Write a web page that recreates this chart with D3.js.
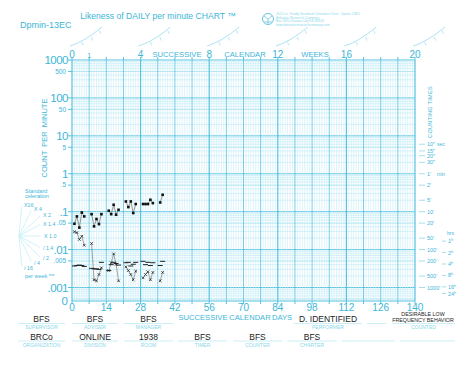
<!DOCTYPE html>
<meta charset="utf-8">
<script src="https://d3js.org/d3.v7.min.js"></script>
<style>
  body { margin: 0; background: #fff; }
</style>
<div id="chart"></div>
<script>
// values (count per minute)
var days    = [1,2,3,4,5, 8,9,10,11,12, 15,16,17,18,19, 22,23,24,25,26, 29,30,31,32,33, 36,37];
var correct = [0.048,0.075,0.038,0.095,0.075, 0.086,0.041,0.064,0.047,0.086,
               0.106,0.086,0.152,0.083,0.112, 0.186,0.132,0.186,0.092,0.159,
               0.159,0.159,0.159,0.206,0.168, 0.175,0.279];
var errors  = [0.0295,0.028,0.0185,0.0225,0.013, 0.0145,0.0016,0.0015,0.0022,0.0033,
               0.0028,0.0045,0.0077,0.0041,0.0015, 0.0035,0.0028,0.0022,0.0016,0.0027,
               0.0018,0.0022,0.0026,0.0016,0.0025, 0.0015,0.0025];
var floors  = [0.0037,0.0038,0.0039,0.0038,0.0036, 0.0032,0.0031,0.0031,0.0030,0.0046,
               0.0028,0.0040,0.0046,0.0043,0.0039, 0.0045,0.0046,0.0037,0.0041,0.0046,
               0.0049,0.0040,0.0046,0.0038,0.0045, 0.0038,0.0049];

// tick labels
var decadeVals = [1000,100,10,1,0.1,0.01,0.001];
var decadeLabels = ["1000","100","10","1",".1",".01",".001"];
var halfVals = [500,50,5,0.5,0.05,0.005];
var halfLabels = ["500","50","5",".5",".05",".005"];
var dayTicks = [0,14,28,42,56,70,84,98,112,126,140];
var weekTicks = [0,1,4,8,12,16,20];
var ctVals = [6,4,3,2,1,0.5,0.2,0.1,0.05,0.02,0.01,0.005,0.002,0.001];
var ctLabels = ["10\u2033","15\u2033","20\u2033","30\u2033","1\u2032","2\u2032","5\u2032","10\u2032","20\u2032","50\u2032","100\u2032","200\u2032","500\u2032","1000\u2032"];
var hrVals = [1,2,4,8,16,24];
var fanLabels = ["X16","X 4","X 2","X 1.4","X 1.0","/ 1.4","/ 2","/ 4","/ 16"];
var fanPos = [[24,205],[34,209],[43,215],[43,224],[44,236],[43,248],[43,258],[34,263],[24,268]];

var width = 474, height = 366;
var cyan = "#3db6d8", light = "#c6edf6", mid = "#8ad7ea", dark = "#56c2df";

var svg = d3.select("#chart").append("svg")
    .attr("width", width)
    .attr("height", height)
    .style("font-family", "'Liberation Sans', Arial, sans-serif");

var x = d3.scaleLinear().domain([0, 140]).range([72, 415]);
var y = d3.scaleLog().domain([0.001, 1000]).range([287.5, 60]);
var zeroY = 301;

// horizontal grid
var hLines = [];
for (var k = -4; k <= 2; k++) {
  for (var m = 1; m <= 9; m++) {
    var v = m * Math.pow(10, k);
    if (v >= 0.0005) hLines.push(v);
  }
}
hLines.push(1000);

function isDecade(d) { var lg = Math.log10(d); return Math.abs(lg - Math.round(lg)) < 1e-6; }
function isFive(d) { var lg = Math.log10(d); return Math.abs(lg - Math.floor(lg) - Math.log10(5)) < 1e-6; }

svg.append("g").selectAll("line")
  .data(hLines)
  .enter().append("line")
    .attr("x1", x(0)).attr("x2", x(140))
    .attr("y1", d => y(d)).attr("y2", d => y(d))
    .attr("stroke", d => isDecade(d) ? dark : (isFive(d) ? mid : light))
    .attr("stroke-width", d => isDecade(d) ? 1 : 0.7);

// vertical grid
svg.append("g").selectAll("line")
  .data(d3.range(0, 141))
  .enter().append("line")
    .attr("x1", d => x(d)).attr("x2", d => x(d))
    .attr("y1", y(1000)).attr("y2", zeroY)
    .attr("stroke", d => d % 7 === 0 ? dark : light)
    .attr("stroke-width", d => d % 28 === 0 ? 1.2 : (d % 7 === 0 ? 0.8 : 0.6));

// zero line
svg.append("line")
  .attr("x1", x(0)).attr("x2", x(140))
  .attr("y1", zeroY).attr("y2", zeroY)
  .attr("stroke", dark).attr("stroke-width", 1.2);

// bottom axis ticks + labels
svg.append("g").selectAll("line")
  .data(d3.range(0, 141, 7))
  .enter().append("line")
    .attr("x1", d => x(d)).attr("x2", d => x(d))
    .attr("y1", zeroY).attr("y2", zeroY + 3)
    .attr("stroke", dark);
svg.append("g").selectAll("text")
  .data(dayTicks)
  .enter().append("text")
    .attr("x", d => x(d)).attr("y", 310.5)
    .attr("text-anchor", "middle")
    .attr("fill", cyan).attr("font-size", 10)
    .text(d => d);

[["SUCCESSIVE", 203], ["CALENDAR", 250], ["DAYS", 282]].forEach(function (w) {
  svg.append("text").attr("x", w[1]).attr("y", 320).attr("text-anchor", "middle")
    .attr("fill", cyan).attr("font-size", 7.6).text(w[0]);
});

// top axis
svg.append("g").selectAll("line")
  .data(d3.range(0, 141, 7))
  .enter().append("line")
    .attr("x1", d => x(d)).attr("x2", d => x(d))
    .attr("y1", y(1000)).attr("y2", y(1000) - 3)
    .attr("stroke", dark);
svg.append("g").selectAll("text")
  .data(weekTicks)
  .enter().append("text")
    .attr("x", d => x(d * 7)).attr("y", 57.5)
    .attr("text-anchor", "middle")
    .attr("fill", cyan)
    .attr("font-size", d => d === 1 ? 7 : 10)
    .text(d => d);
[["SUCCESSIVE", 177], ["CALENDAR", 245], ["WEEKS", 315]].forEach(function (w) {
  svg.append("text").attr("x", w[1]).attr("y", 57).attr("text-anchor", "middle")
    .attr("fill", cyan).attr("font-size", 7.6).text(w[0]);
});

// left axis labels
svg.append("g").selectAll("text")
  .data(decadeVals)
  .enter().append("text")
    .attr("x", 68).attr("y", d => y(d) + 4)
    .attr("text-anchor", "end")
    .attr("fill", cyan).attr("font-size", 11.5).attr("letter-spacing", -0.5)
    .text((d, i) => decadeLabels[i]);
svg.append("g").selectAll("text")
  .data(halfVals)
  .enter().append("text")
    .attr("x", 66).attr("y", d => y(d) + 2.3)
    .attr("text-anchor", "end")
    .attr("fill", cyan).attr("font-size", 6.5)
    .text((d, i) => halfLabels[i]);
svg.append("text").attr("x", 68).attr("y", zeroY + 4).attr("text-anchor", "end")
  .attr("fill", cyan).attr("font-size", 11.5).text("0");
svg.append("g").selectAll("line")
  .data(decadeVals.concat(halfVals))
  .enter().append("line")
    .attr("x1", 68).attr("x2", 72)
    .attr("y1", d => y(d)).attr("y2", d => y(d))
    .attr("stroke", dark);

svg.append("text")
  .attr("transform", "translate(47,138) rotate(-90)")
  .attr("text-anchor", "middle")
  .attr("fill", cyan).attr("font-size", 7.5).attr("word-spacing", 2)
  .text("COUNT PER MINUTE");

// right counting times
svg.append("text")
  .attr("transform", "translate(432,112) rotate(-90)")
  .attr("text-anchor", "middle")
  .attr("fill", cyan).attr("font-size", 5.5).attr("letter-spacing", 0.3)
  .text("COUNTING TIMES");
var ct = svg.append("g");
ct.selectAll("line")
  .data(ctVals)
  .enter().append("line")
    .attr("x1", 419).attr("x2", 425)
    .attr("y1", d => y(d)).attr("y2", d => y(d))
    .attr("stroke", mid).attr("stroke-width", 0.8);
ct.selectAll("text")
  .data(ctVals)
  .enter().append("text")
    .attr("x", 427).attr("y", d => y(d) + 2)
    .attr("fill", cyan).attr("font-size", 5.5)
    .text((d, i) => ctLabels[i]);
ct.append("text").attr("x", 437).attr("y", y(6) + 2).attr("fill", cyan).attr("font-size", 5).text("sec");
ct.append("text").attr("x", 437).attr("y", y(1) + 2).attr("fill", cyan).attr("font-size", 5).text("min");
ct.append("text").attr("x", 447).attr("y", y(1 / 60) - 6).attr("fill", cyan).attr("font-size", 5).text("hrs");
ct.selectAll(".hr")
  .data(hrVals)
  .enter().append("line")
    .attr("x1", 442).attr("x2", 446)
    .attr("y1", d => y(1 / (60 * d))).attr("y2", d => y(1 / (60 * d)))
    .attr("stroke", mid).attr("stroke-width", 0.8);
ct.selectAll(".hrt")
  .data(hrVals)
  .enter().append("text")
    .attr("x", 448).attr("y", d => y(1 / (60 * d)) + 2)
    .attr("fill", cyan).attr("font-size", 5.5)
    .text(d => d + "\u02b0");

// standard celeration fan
var fan = svg.append("g");
var ox = 19, oy = 236;
fan.selectAll("line")
  .data(fanPos)
  .enter().append("line")
    .attr("x1", ox).attr("y1", oy)
    .attr("x2", d => ox + (d[0] - 2 - ox) * 0.95)
    .attr("y2", d => oy + (d[1] - oy) * 0.95)
    .attr("stroke", light).attr("stroke-width", 0.8);
fan.selectAll("text")
  .data(fanPos)
  .enter().append("text")
    .attr("x", d => d[0]).attr("y", d => d[1] + 2)
    .attr("fill", cyan).attr("font-size", 5.3)
    .text((d, i) => fanLabels[i]);
fan.append("text").attr("x", 25).attr("y", 193).attr("fill", cyan).attr("font-size", 5.5).text("Standard");
fan.append("text").attr("x", 25).attr("y", 198).attr("fill", cyan).attr("font-size", 5.5).text("celeration");
fan.append("text").attr("x", 25).attr("y", 278).attr("fill", cyan).attr("font-size", 5.5).text("per week \u1d50\u1d43");

// celeration finders across the top
var finder = svg.append("g");
finder.selectAll("path")
  .data(d3.range(0, 141, 28))
  .enter().append("path")
    .attr("d", d => "M" + (x(d) - 2) + ",46 Q" + (x(d) + 12) + ",42 " + (x(d) + 30) + ",27")
    .attr("fill", "none").attr("stroke", mid).attr("stroke-width", 0.7);
d3.range(0, 141, 28).forEach(function (d) {
  [0.3, 0.6, 0.85].forEach(function (t) {
    var px = x(d) + 32 * t, py = 46 - 18 * t * t;
    finder.append("line").attr("x1", px).attr("y1", py - 2.5).attr("x2", px + 1.5).attr("y2", py + 1)
      .attr("stroke", mid).attr("stroke-width", 0.6);
  });
});

// title and logo
svg.append("text").attr("x", 158).attr("y", 19).attr("text-anchor", "middle")
  .attr("fill", cyan).attr("font-size", 8.6)
  .text("Likeness of DAILY per minute CHART \u2122");
svg.append("text").attr("x", 20).attr("y", 28)
  .attr("fill", cyan).attr("font-size", 9)
  .text("Dpmin-13EC");
svg.append("circle").attr("cx", 268).attr("cy", 19).attr("r", 5.5)
  .attr("fill", "none").attr("stroke", cyan).attr("stroke-width", 0.8);
svg.append("path").attr("d", "M264,16 L268,19 L272,16 M268,19 L268,24 M264,22 L272,22")
  .attr("fill", "none").attr("stroke", cyan).attr("stroke-width", 0.6);
["2011 Lic. Kindly Standard Celeration Chart \u00b7 Dpmin-13EC",
 "Behavior Research Company",
 "Box 3351 Kansas City KS 66103",
 "www.behaviorresearchcompany.com"].forEach(function (s, i) {
  svg.append("text").attr("x", 276).attr("y", 15 + i * 3.6)
    .attr("fill", mid).attr("font-size", 3.3).text(s);
});

// data
var pts = days.map((d, i) => ({ day: d, c: correct[i], e: errors[i], f: floors[i] }));
var groups = [];
pts.forEach(function (p, i) {
  if (i === 0 || p.day - pts[i - 1].day > 1) groups.push([]);
  groups[groups.length - 1].push(p);
});

var lineC = d3.line().x(d => x(d.day)).y(d => y(d.c));
var lineE = d3.line().x(d => x(d.day)).y(d => y(d.e));
var data = svg.append("g");
groups.forEach(function (g) {
  data.append("path").attr("d", lineC(g)).attr("fill", "none").attr("stroke", "#555").attr("stroke-width", 0.6);
  data.append("path").attr("d", lineE(g)).attr("fill", "none").attr("stroke", "#666").attr("stroke-width", 0.6);
});

data.selectAll(".floor")
  .data(pts)
  .enter().append("line")
    .attr("x1", d => x(d.day) - 2.5).attr("x2", d => x(d.day) + 2.5)
    .attr("y1", d => y(d.f)).attr("y2", d => y(d.f))
    .attr("stroke", "#222").attr("stroke-width", 1);

data.selectAll(".dot")
  .data(pts)
  .enter().append("rect")
    .attr("x", d => x(d.day) - 1.3).attr("y", d => y(d.c) - 1.3)
    .attr("width", 2.6).attr("height", 2.6)
    .attr("fill", "#111");

data.selectAll(".err")
  .data(pts)
  .enter().append("path")
    .attr("d", function (d) {
      var cx = x(d.day), cy = y(d.e), s = 1.3;
      return "M" + (cx - s) + "," + (cy - s) + "L" + (cx + s) + "," + (cy + s) +
             "M" + (cx - s) + "," + (cy + s) + "L" + (cx + s) + "," + (cy - s);
    })
    .attr("stroke", "#222").attr("stroke-width", 0.8);

// form fields at the bottom
var row1 = [
  { x1: 18, x2: 65, val: "BFS", cap: "SUPERVISOR" },
  { x1: 72, x2: 118, val: "BFS", cap: "ADVISER" },
  { x1: 124, x2: 173, val: "BFS", cap: "MANAGER" },
  { x1: 294, x2: 362, val: "D. IDENTIFIED", cap: "PERFORMER" },
  { x1: 367, x2: 386, val: "", cap: "" },
  { x1: 392, x2: 455, val: "", cap: "COUNTED" }
];
var row2 = [
  { x1: 18, x2: 65, val: "BRCo", cap: "ORGANIZATION" },
  { x1: 72, x2: 118, val: "ONLINE", cap: "DIVISION" },
  { x1: 124, x2: 173, val: "1938", cap: "ROOM" },
  { x1: 178, x2: 227, val: "BFS", cap: "TIMER" },
  { x1: 233, x2: 282, val: "BFS", cap: "COUNTER" },
  { x1: 287, x2: 337, val: "BFS", cap: "CHARTER" },
  { x1: 342, x2: 395, val: "", cap: "" },
  { x1: 400, x2: 455, val: "", cap: "" }
];
function drawRow(row, base) {
  var g = svg.append("g");
  row.forEach(function (f) {
    var cx = (f.x1 + f.x2) / 2;
    g.append("line").attr("x1", f.x1).attr("x2", f.x2).attr("y1", base + 1.5).attr("y2", base + 1.5)
      .attr("stroke", light).attr("stroke-width", 0.9);
    g.append("text").attr("x", cx).attr("y", base).attr("text-anchor", "middle")
      .attr("fill", "#222").attr("font-size", 8.5).text(f.val);
    g.append("text").attr("x", cx).attr("y", base + 7).attr("text-anchor", "middle")
      .attr("fill", mid).attr("font-size", 5).text(f.cap);
  });
}
drawRow(row1, 322);
drawRow(row2, 339.5);
svg.append("text").attr("x", 423).attr("y", 316.3).attr("text-anchor", "middle")
  .attr("fill", "#222").attr("font-size", 5.3).text("DESIRABLE LOW");
svg.append("text").attr("x", 423).attr("y", 321.8).attr("text-anchor", "middle")
  .attr("fill", "#222").attr("font-size", 5.3).text("FREQUENCY BEHAVIOR");
</script>
